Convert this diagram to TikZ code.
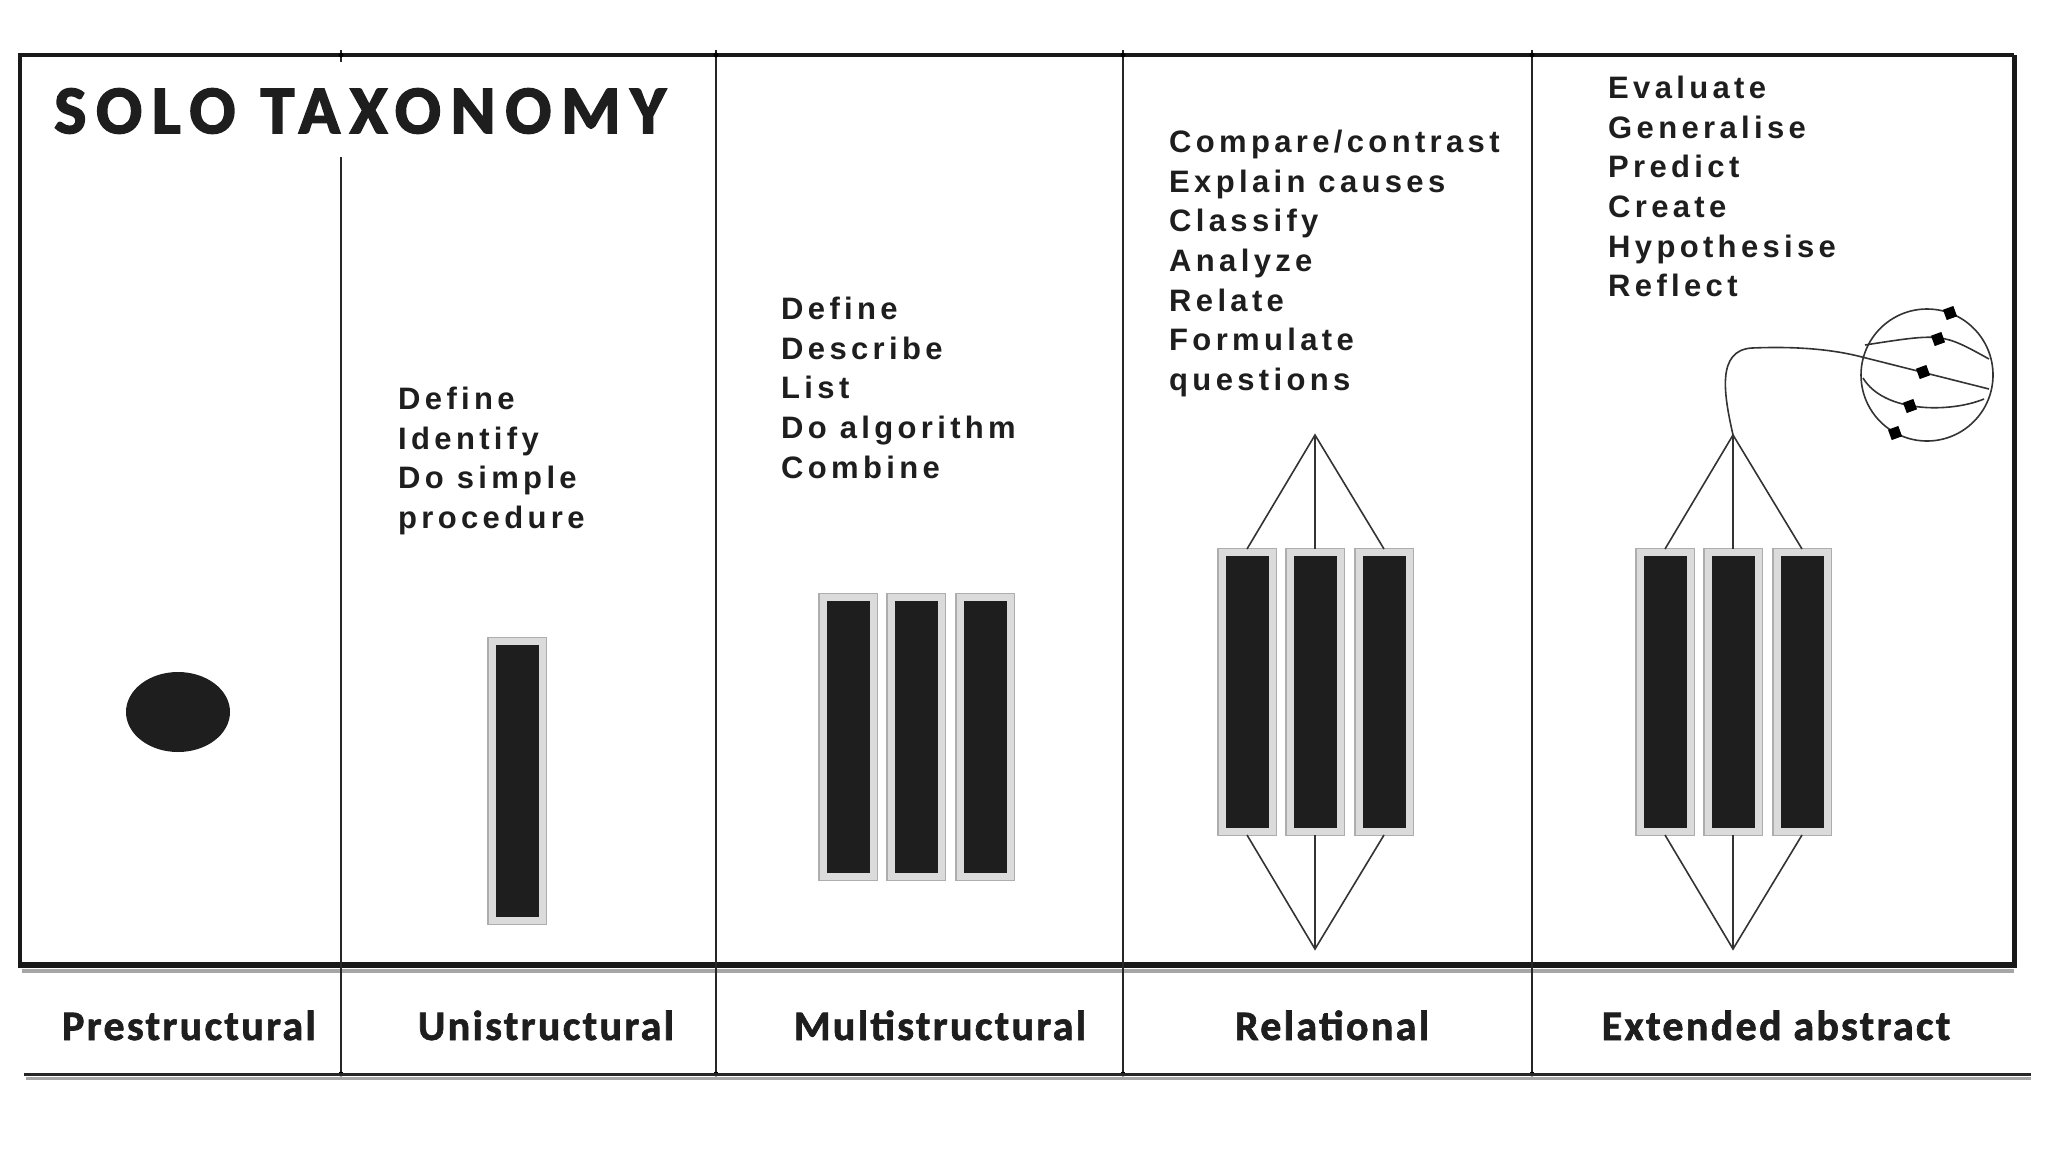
\documentclass[tikz,border=0pt]{standalone}
\usepackage{fontspec}
\usetikzlibrary{shapes.geometric}
\newfontfamily\listfont{Liberation Sans Bold}[LetterSpace=14]
\newfontfamily\labfont{Carlito}[LetterSpace=5.5, FakeBold=1.5]
\newfontfamily\titlefont{Carlito}[LetterSpace=14.5, FakeBold=2.5]
\definecolor{ink}{HTML}{1E1E1E}
\begin{document}
\begin{tikzpicture}[x=1pt,y=-1pt,
  bar/.style={rectangle, inner sep=0pt, minimum width=50pt, minimum height=279pt,
    fill=ink, draw=black!14, line width=7pt,
    preaction={draw=black!32, line width=9.5pt}},
  conn/.style={line width=1.6pt, draw=black!80},
  divider/.style={line width=1.4pt, draw=black!85},
  joint/.style={circle, fill=black, inner sep=0pt, minimum size=5pt},
  listtext/.style={anchor=north west, inner sep=0pt, align=left, text=ink,
    font=\listfont\fontsize{31}{39.6}\selectfont},
  lab/.style={anchor=base, inner sep=0pt, text=ink,
    font=\labfont\bfseries\fontsize{42}{42}\selectfont},
  dotsq/.style={rectangle, fill=black, inner sep=0pt, minimum size=11pt, rotate=20}
]
\useasboundingbox (0,0) rectangle (2048,1152);
\fill[white] (0,0) rectangle (2048,1152);

% frame
\draw[line width=3.5pt, black!90] (20,966) -- (20,55) -- (2014,55);
\draw[line width=5pt, black!90] (2014,55) -- (2014,968);
\draw[line width=4pt, black!35] (22,971) -- (2014,971);
\draw[line width=6pt, black!90] (18,965) -- (2016,965);

% dividers
\draw[divider] (341,157) -- (341,1074);
\draw[divider] (341,50) -- (341,62);
\draw[divider] (716,50) -- (716,1074);
\draw[divider] (1123,50) -- (1123,1074);
\draw[divider] (1532,50) -- (1532,1074);
\foreach \i/\x in {1/341,2/716,3/1123,4/1532}{
  \node[joint] (jt\i) at (\x,55) {};
  \node[joint] (jb\i) at (\x,1074) {};
}
% bottom rule
\draw[line width=3pt, black!35] (26,1078) -- (2031,1078);
\draw[line width=3pt, black!85] (24,1074) -- (2031,1074);

% title
\node[anchor=west, inner sep=0pt, text=ink] (title) at (54,111)
  {\titlefont\bfseries\fontsize{68}{68}\selectfont SOLO TAXONOMY};

% prestructural
\node[ellipse, fill=ink, minimum width=104pt, minimum height=80pt, inner sep=0pt] (pre) at (178,712) {};

% unistructural
\node[bar] (u1) at (517,781) {};
% multistructural
\node[bar] (m1) at (848,737) {};
\node[bar] (m2) at (916,737) {};
\node[bar] (m3) at (985,737) {};
% relational
\node[bar] (r1) at (1247,692) {};
\node[bar] (r2) at (1315,692) {};
\node[bar] (r3) at (1384,692) {};
\coordinate (rt) at (1315,435);
\coordinate (rb) at (1315,949);
\draw[conn] (r1.north) -- (rt) -- (r3.north);
\draw[conn] (rt) -- (r2.north);
\draw[conn] (r1.south) -- (rb) -- (r3.south);
\draw[conn] (rb) -- (r2.south);
% extended abstract
\node[bar] (e1) at (1665,692) {};
\node[bar] (e2) at (1733,692) {};
\node[bar] (e3) at (1802,692) {};
\coordinate (et) at (1733,435);
\coordinate (eb) at (1733,949);
\draw[conn] (e1.north) -- (et) -- (e3.north);
\draw[conn] (et) -- (e2.north);
\draw[conn] (e1.south) -- (eb) -- (e3.south);
\draw[conn] (eb) -- (e2.south);

% sphere
\node[circle, draw=black!80, line width=1.6pt, minimum size=132pt, inner sep=0pt] (sph) at (1927,375) {};
\coordinate (p1) at (1862,357);
\coordinate (p2) at (1989,389);
\coordinate (qa1) at (1865,345);
\coordinate (qa2) at (1989,359);
\coordinate (qc1) at (1863,378);
\coordinate (qc2) at (1984,399);
\draw[conn] (qa1) .. controls (1942,333) .. (qa2);
\draw[conn] (p1) -- (p2);
\draw[conn] (qc1) .. controls (1884,413) and (1950,413) .. (qc2);
\node[dotsq] (d1) at (1950,313) {};
\node[dotsq] (d2) at (1938,339) {};
\node[dotsq] (d3) at (1923,372) {};
\node[dotsq] (d4) at (1910,406) {};
\node[dotsq] (d5) at (1895,433) {};
\draw[conn] (et) .. controls (1724,395) and (1716,350) .. (1752,348)
  .. controls (1800,346) and (1835,350) .. (p1);

% verb lists
\node[listtext] (tu) at (398,387) {Define\\Identify\\Do simple\\procedure};
\node[listtext] (tm) at (781,297) {Define\\Describe\\List\\Do algorithm\\Combine};
\node[listtext] (tr) at (1169,130) {Compare/contrast\\Explain causes\\Classify\\Analyze\\Relate\\Formulate\\questions};
\node[listtext] (te) at (1608,76) {Evaluate\\Generalise\\Predict\\Create\\Hypothesise\\Reflect};

% level labels
\node[lab] (l1) at (189,1040) {Prestructural};
\node[lab] (l2) at (546,1040) {Unistructural};
\node[lab] (l3) at (940,1040) {Multistructural};
\node[lab] (l4) at (1332,1040) {Relational};
\node[lab] (l5) at (1776,1040) {Extended abstract};
\end{tikzpicture}
\end{document}
